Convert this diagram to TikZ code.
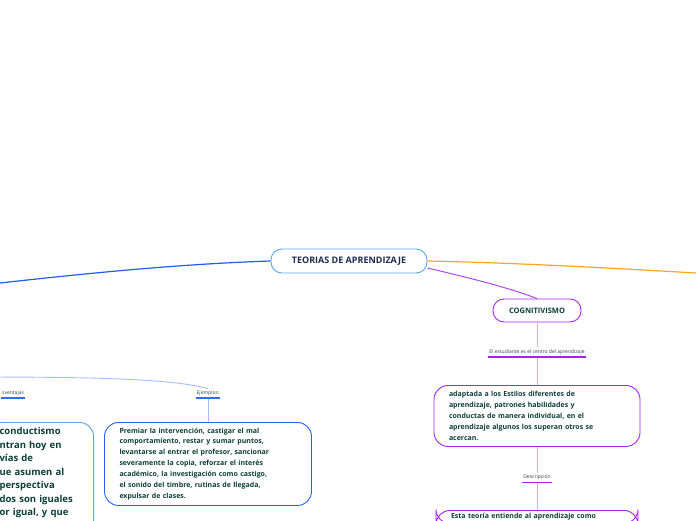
\documentclass[tikz,border=0pt]{standalone}
\usepackage{fontspec}
\setmainfont{Open Sans}
\usetikzlibrary{positioning}

\definecolor{navy}{HTML}{1B2A4E}
\definecolor{boxgreen}{HTML}{0C3F34}
\definecolor{labelgray}{HTML}{3A3A3A}
\definecolor{titleblue}{HTML}{58A6E0}
\definecolor{mainblue}{HTML}{1E5CF2}
\definecolor{mainorange}{HTML}{FFA51F}
\definecolor{mainpurple}{HTML}{B146F5}
\definecolor{boxpurple}{HTML}{A424F2}
\definecolor{softpurple}{HTML}{DCAAF7}
\definecolor{softblue}{HTML}{A3BEFF}
\definecolor{linkblue}{HTML}{2E6CF6}
\definecolor{boxblue}{HTML}{2563F0}
\definecolor{leftblue}{HTML}{5EA2EA}

\begin{document}
\begin{tikzpicture}[x=1pt,y=-1pt]
\useasboundingbox (0,0) rectangle (696,520);
\clip (0,0) rectangle (696,520);
% Draw Mind Map
   \begin{scope}[ node distance=25pt,
                   title/.style={rectangle,rounded corners=11pt,draw=titleblue,line width=0.9pt,
                                 minimum width=156pt,minimum height=24pt,text=navy,
                                 font=\bfseries\fontsize{9}{11}\selectfont},
                   theory/.style={rectangle,rounded corners=11pt,draw=boxpurple,line width=0.9pt,
                                  minimum width=88pt,minimum height=23pt,text=boxgreen,
                                  font=\bfseries\fontsize{7.5}{9}\selectfont},
                   textbox/.style={rectangle,rounded corners=14pt,line width=0.9pt,text=boxgreen,
                                   align=left,inner xsep=15pt,
                                   font=\bfseries\fontsize{7}{10.9}\selectfont},
                   topic/.style={inner xsep=1pt,inner ysep=2pt,text=labelgray,
                                 font=\fontsize{5}{6}\selectfont},
                   purplelink/.style={draw=softpurple,line width=0.9pt},
                   bluelink/.style={draw=softblue,line width=0.9pt},
                   purpleline/.style={draw=boxpurple,line width=1.6pt},
                   blueline/.style={draw=linkblue,line width=1.6pt} ]
     \node [title]  (teorias) at (349,261)  {TEORIAS DE APRENDIZAJE};
     \coordinate    (conduct) at (0,283);
     \coordinate    (other)   at (696,273);
     \coordinate    (desvroot) at (-30,377);

     % cognitivismo branch
     \node [theory] (cog)  at (537,310.5)          {COGNITIVISMO};
     \node [topic]  (centro) [below=of cog]        {El estudiante es el centro del aprendizaje};
     \node [textbox,draw=boxpurple,text width=176pt,minimum height=61pt,anchor=north]
                    (estilos) at (537,385)
                    {adaptada a los Estilos diferentes de\\
                     aprendizaje, patrones habilidades y\\
                     conductas de manera individual, en el\\
                     aprendizaje algunos los superan otros se\\
                     acercan.};
     \node [topic]  (descr) [below=26pt of estilos] {Descripción};
     \node [textbox,draw=boxpurple,text width=172pt,inner ysep=3pt,anchor=north]
                    (teoria) at (537,510)
                    {Esta teoría entiende al aprendizaje como};

     % conductismo branch
     \node [topic,anchor=south west] (desv) at (1,398) {sventajas};
     \node [topic,anchor=south]      (ejem) at (208,398) {Ejemplos:};
     \node [textbox,draw=boxblue,text width=177pt,minimum height=83pt]
                    (premiar) [below=24pt of ejem]
                    {Premiar la intervención, castigar el mal\\
                     comportamiento, restar y sumar puntos,\\
                     levantarse al entrar el profesor, sancionar\\
                     severamente la copia, reforzar el interés\\
                     académico, la investigación como castigo,\\
                     el sonido del timbre, rutinas de llegada,\\
                     expulsar de clases.};
     \node [textbox,draw=leftblue,text width=82pt,inner xsep=12pt,inner ysep=5pt,text depth=105pt,
            anchor=north east,font=\bfseries\fontsize{9.5}{13.5}\selectfont]
                    (ventajas) at (94,422)
                    {conductismo\\
                     ntran hoy en\\
                     vías de\\
                     ue asumen al\\
                     perspectiva\\
                     dos son iguales\\
                     or igual, y que};

     % main branches
     \draw [mainblue,line width=1.2pt] (conduct) .. controls (90,273) and (180,264) .. (teorias.west);
     \draw [mainorange,line width=1.2pt] (teorias.east) .. controls (520,263) and (610,268) .. (other);
     \draw [mainpurple,line width=1pt] ([yshift=-7pt]teorias.east) .. controls (470,278) and (510,288) .. (cog.north);

     % sub connectors
     \draw [purplelink] (cog) -- (centro);
     \draw [purplelink] (centro.south) -- (estilos);
     \draw [purplelink] (estilos) -- (descr);
     \draw [purplelink] (descr.south) -- (teoria);
     \draw [bluelink] (desvroot) .. controls (80,377) and (170,378) .. (ejem.north);
     \draw [bluelink] (ejem.south) -- (premiar);

     % underlines
     \draw [purpleline] (centro.south west) -- (centro.south east);
     \draw [purpleline] (descr.south west) -- (descr.south east);
     \draw [blueline] (desv.south west) -- (desv.south east);
     \draw [blueline] (ejem.south west) -- (ejem.south east);
   \end{scope}
\end{tikzpicture}
\end{document}
